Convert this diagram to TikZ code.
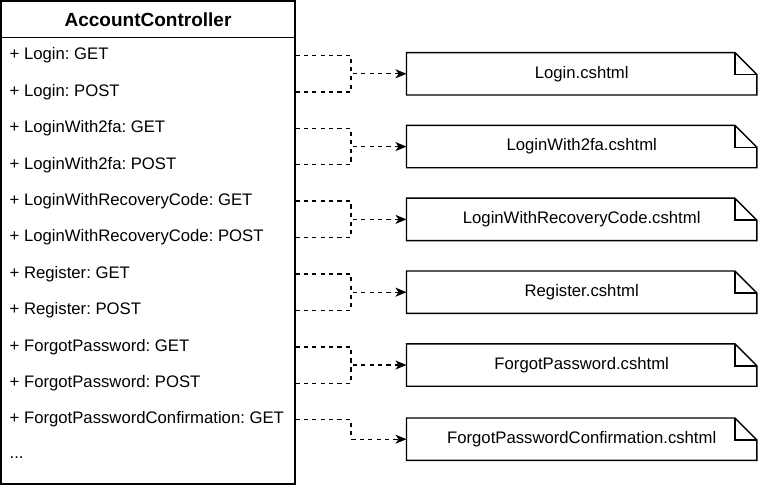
\documentclass[tikz,border=0pt]{standalone}
\usepackage{fontspec}
\setmainfont{Liberation Sans}
\usetikzlibrary{arrows.meta,calc}
\frenchspacing
\begin{document}
\frenchspacing
\begin{tikzpicture}[x=1bp,y=-1bp,
  every node/.style={font=\fontsize{16.7bp}{20bp}\selectfont},
  cls/.style={draw,line width=1.4bp},
  row/.style={anchor=west,minimum height=36.4bp,inner xsep=8.5bp,inner ysep=0pt},
  note/.style={minimum width=350bp,minimum height=42bp,inner sep=0pt},
  notebox/.style={draw,line width=1.4bp,line join=miter},
  depline/.style={line width=1.4bp,dash pattern=on 4.2bp off 4.2bp},
  dep/.style={depline,-{Stealth[length=11bp,width=9bp,inset=3bp]}}
]
\useasboundingbox (0,0) rectangle (768,486);
% class box
\draw[cls] (1,1) rectangle (295,484);
\draw[cls] (1,37.4) -- (295,37.4);
\node[font=\fontsize{19bp}{22bp}\selectfont\bfseries] (hdr) at (148,19.5) {AccountController};
% rows
\foreach \i/\t in {0/{+ Login: GET},1/{+ Login: POST},2/{+ LoginWith2fa: GET},3/{+ LoginWith2fa: POST},
  4/{+ LoginWithRecoveryCode: GET},5/{+ LoginWithRecoveryCode: POST},6/{+ Register: GET},7/{+ Register: POST},
  8/{+ ForgotPassword: GET},9/{+ ForgotPassword: POST},10/{+ ForgotPasswordConfirmation: GET}}
  \node[row] (r\i) at (1,{55.6+36.4*\i}) {\makebox[277bp][l]{\t}};
\node[row] (r11) at (1,458) {\makebox[277bp][l]{...}};
% notes
\foreach \k/\y/\t in {0/73.8/Login.cshtml,1/146.6/LoginWith2fa.cshtml,2/219.4/LoginWithRecoveryCode.cshtml,
  3/292.2/Register.cshtml,4/365/ForgotPassword.cshtml,5/439.2/ForgotPasswordConfirmation.cshtml}{
  \node[note] (n\k) at (581.7,\y) {\t};
  \draw[notebox] (n\k.south west) -- (n\k.north west) -- ([xshift=-22bp]n\k.north east)
     -- ([yshift=-22bp]n\k.north east) -- (n\k.south east) -- cycle;
  \draw[notebox] ([xshift=-22bp]n\k.north east) -- ([xshift=-22bp,yshift=-22bp]n\k.north east)
     -- ([yshift=-22bp]n\k.north east);
  \coordinate (j\k) at ([xshift=-55.5bp]n\k.west);
}
% connectors
\foreach \a/\b in {0/0,2/1,4/2,6/3,8/4,10/5}
  \draw[dep] (r\a.east) -| (j\b) -- (n\b.west);
\foreach \a/\b in {1/0,3/1,5/2,7/3,9/4}
  \draw[depline] (r\a.east) -| (j\b);
\end{tikzpicture}
\end{document}
